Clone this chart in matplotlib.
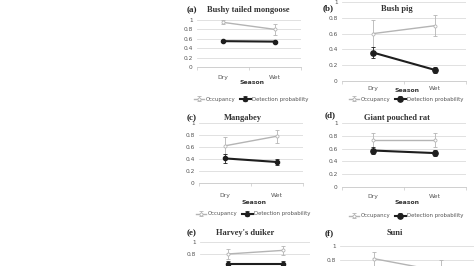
import matplotlib
matplotlib.use('Agg')
import matplotlib.pyplot as plt
from matplotlib.ticker import FixedLocator

# values (Dry, Wet)
labels = ['(a)', '(b)', '(c)', '(d)', '(e)', '(f)']
titles = ['Bushy tailed mongoose', 'Bush pig', 'Mangabey',
          'Giant pouched rat', "Harvey's duiker", 'Suni']
seasons = ['Dry', 'Wet']
occ = [[0.95, 0.80], [0.60, 0.70], [0.62, 0.78], [0.73, 0.73], [0.80, 0.86], [0.82, 0.64]]
occ_err = [[0.04, 0.11], [0.17, 0.13], [0.14, 0.11], [0.12, 0.11], [0.09, 0.07], [0.10, 0.16]]
det = [[0.55, 0.54], [0.36, 0.14], [0.41, 0.35], [0.57, 0.53], [0.63, 0.63], [0.55, 0.45]]
det_err = [[0.02, 0.02], [0.07, 0.04], [0.07, 0.05], [0.05, 0.05], [0.06, 0.06], [0.05, 0.05]]
yticks = [0, 0.2, 0.4, 0.6, 0.8, 1]
ytick_text = ['0', '0.2', '0.4', '0.6', '0.8', '1']

W, H = 474, 266
# layout in pixels: left, top (y=1), right, bottom (y=0)
boxes = [(197, 20, 301, 67), (342, 2, 466, 81), (199, 123, 303, 183),
         (342, 123, 466, 187), (200, 242, 310, 302), (340, 246, 474, 316)]
label_pos = [(187, 10), (323, 8), (187, 118), (325, 115), (187, 233), (325, 233)]
title_pos = [(248, 10), (397, 9), (243, 118), (397, 118), (245, 233), (395, 233)]
xpad = [8, 5, 10, 7, 8, 8]
season_y = [83, 91, 203, 203, None, None]
legend_y = [99, 99, 214, 216, None, None]

OCC_C = '#b4b4b4'
DET_C = '#1e1e1e'
GRID_C = '#dcdcdc'
TXT_C = '#555555'

fig = plt.figure(figsize=(W / 100, H / 100), dpi=100)


def fx(x):
    return x / W


def fy(y):
    return 1 - y / H


for i in range(6):
    l, t, r, b = boxes[i]
    ax = fig.add_axes([fx(l), fy(b), (r - l) / W, (b - t) / H])
    ax.set_xlim(-0.5, 1.5)
    ax.set_ylim(0, 1)
    ax.patch.set_alpha(0)

    ax.errorbar([0, 1], occ[i], yerr=occ_err[i], color=OCC_C, lw=1.0,
                marker='o', ms=2.2, mfc='white', mec=OCC_C, mew=0.6,
                elinewidth=0.6, capsize=1.5, capthick=0.6, clip_on=False,
                label='Occupancy', zorder=3)
    ax.errorbar([0, 1], det[i], yerr=det_err[i], color=DET_C, lw=1.5,
                marker='o', ms=3.8 if i in (1, 3) else 3, elinewidth=0.6,
                capsize=1.5, capthick=0.6, clip_on=False,
                label='Detection probability', zorder=4)

    # only label the ticks that fall inside the picture
    shown = [txt if (b - v * (b - t)) < H - 5 else ''
             for v, txt in zip(yticks, ytick_text)]
    ax.set_yticks(yticks)
    ax.set_yticklabels(shown)
    ax.yaxis.grid(True, color=GRID_C, lw=0.6)
    ax.set_axisbelow(True)
    for s in ['top', 'right', 'left']:
        ax.spines[s].set_visible(False)
    ax.spines['bottom'].set_color('#c8c8c8')
    ax.spines['bottom'].set_linewidth(0.6)
    ax.tick_params(axis='y', length=0, labelsize=4.2, labelcolor=TXT_C, pad=3)

    ax.set_xticks([0, 1])
    ax.set_xticklabels(seasons if b < H else ['', ''])
    ax.xaxis.set_minor_locator(FixedLocator([-0.5, 0.5, 1.5]))
    ax.tick_params(axis='x', which='major', length=0, labelsize=4.4,
                   labelcolor=TXT_C, pad=xpad[i] * 0.72)
    ax.tick_params(axis='x', which='minor', length=2, width=0.5, color='#c8c8c8')

    cx = (l + r) / 2
    fig.text(fx(label_pos[i][0]), fy(label_pos[i][1]), labels[i],
             fontsize=6.5, fontweight='bold', family='Liberation Serif',
             color='#222222', ha='left', va='center')
    fig.text(fx(title_pos[i][0]), fy(title_pos[i][1]), titles[i],
             fontsize=6, fontweight='bold', family='Liberation Serif',
             color='#333333', ha='center', va='center')
    if season_y[i] is not None:
        fig.text(fx(cx + 3), fy(season_y[i]), 'Season', fontsize=4.4,
                 fontweight='bold', color='#333333', ha='center', va='center')
    if legend_y[i] is not None:
        ax.legend(loc='center', bbox_to_anchor=(fx(cx + 2), fy(legend_y[i])),
                  bbox_transform=fig.transFigure, ncol=2, frameon=False,
                  fontsize=3.9, handlelength=1.9, columnspacing=1.0,
                  handletextpad=0.25, labelcolor=TXT_C)

fig.savefig('out.png', dpi=100)
